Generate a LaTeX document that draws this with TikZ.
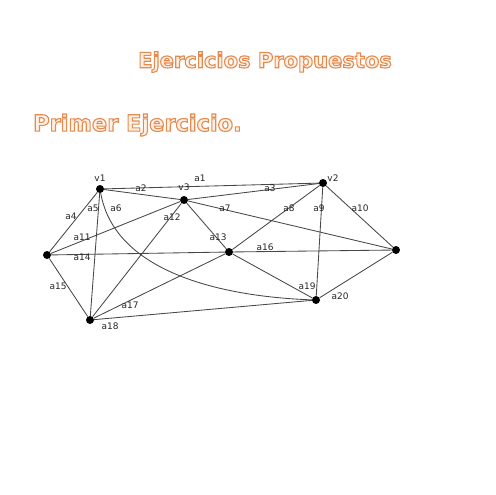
\documentclass[tikz,border=0pt]{standalone}
\usepackage{fontspec}
\setmainfont{DejaVu Sans}
% outlined text: fill pale, stroke orange
\newcommand\wordart[1]{\special{pdf:literal direct 2 Tr 1.1 w 0.898 0.541 0.306 RG 1 0.945 0.900 rg}#1\special{pdf:literal direct 0 Tr 0 0 0 RG 0 0 0 rg}}

\begin{document}
\begin{tikzpicture}
		[x=1pt,y=-1pt,vertex/.style={circle,fill=black,inner sep=0pt,minimum size=8pt},
		edge/.style={draw=black!72,line width=0.85pt},
		lbl/.style={font=\fontsize{9}{10}\selectfont,text=black!85,inner sep=0pt},
		title/.style={font=\bfseries\fontsize{21}{24}\selectfont,inner sep=0pt}]
		\useasboundingbox (0,0) rectangle (495,495);
		\node[title] (t1) at (265,62) {\wordart{Ejercicios Propuestos}};
		\node[title,font=\bfseries\fontsize{22.5}{26}\selectfont,anchor=west] (t2) at (33,125) {\wordart{Primer Ejercicio.}};
		
		\node[vertex] (v1) at (100,189) {};
		\node[vertex] (v2) at (323,183) {};
		\node[vertex] (v3) at (184,200) {};
		\node[vertex] (vl) at (47,255) {};
		\node[vertex] (vc) at (229,252) {};
		\node[vertex] (vr) at (396,250) {};
		\node[vertex] (vbl) at (90,320) {};
		\node[vertex] (vbr) at (316,300) {};
		
		\foreach \from/\to in {v1/v2,v1/v3,v3/v2,v1/vl,v1/vbl,v3/vr,vc/v2,v2/vbr,v2/vr,vl/v3,v3/vbl,v3/vc,vl/vc,vc/vr,vl/vbl,vbl/vc,vbl/vbr,vc/vbr,vbr/vr}
		\draw[edge] (\from) -- (\to);
		\draw[edge] (v1) to[out=-80,in=178,looseness=0.9] (vbr);
		
		\foreach \name/\x/\y in {v1/100/178,v2/333/178,v3/184/187,a1/200/178,a2/141/188,a3/270/188,a4/71/216,a5/93/208,a6/116/208,a7/225/208,a8/289/208,a9/319/208,a10/360/208,a11/82/237,a12/172/217,a13/218/237,a14/82/257,a15/58/286,a16/265/247,a17/130/305,a18/110/326,a19/307/286,a20/340/296}
		\node[lbl] (l\name) at (\x,\y) {\name};
\end{tikzpicture}
\end{document}
